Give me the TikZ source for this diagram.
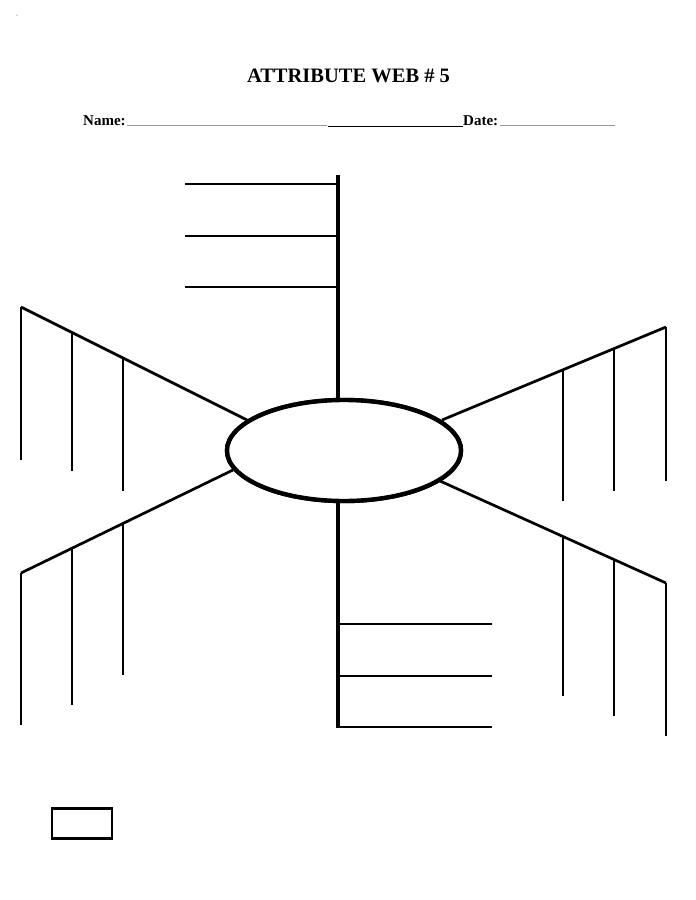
\documentclass[tikz,border=0pt]{standalone}
\usepackage{fontspec}
\setmainfont{Liberation Serif}
\usetikzlibrary{calc,shapes.geometric}
\begin{document}
\begin{tikzpicture}[x=1pt,y=-1pt,
  web/.style={line width=2.7pt,line cap=butt},
  spine/.style={line width=3.1pt,line cap=butt},
  tick/.style={line width=2.5pt},
  hub/.style={ellipse,draw,line width=4.4pt,minimum width=234pt,minimum height=101pt,inner sep=0pt},
  blank/.style={draw=black!40,line width=0.6pt},
  thickblank/.style={draw=black,line width=1.3pt},
  lbl/.style={inner sep=0pt,font=\bfseries\fontsize{15}{18}\selectfont}]
\useasboundingbox (0,0) rectangle (696,900);
\fill[white] (0,0) rectangle (696,900);

% header
\node[inner sep=0pt,font=\bfseries\fontsize{20.5}{24}\selectfont,anchor=base] (title) at (348.5,82) {ATTRIBUTE WEB \# 5};
\node[lbl,anchor=base west] (name) at (83,125) {Name:};
\node[lbl,anchor=base west] (date) at (463,125) {Date:};
\coordinate (n1) at (127,125.3); \coordinate (n2) at (327,125.3);
\coordinate (n3) at (328,126.3); \coordinate (n4) at (463,126.3);
\coordinate (d1) at (500,125.3); \coordinate (d2) at (615,125.3);
\draw[blank] (n1) -- (n2);
\draw[thickblank] (n3) -- (n4);
\draw[blank] (d1) -- (d2);
\node[inner sep=0pt,font=\fontsize{6}{6}\selectfont] (mark) at (17,17) {´};

% central ellipse
\node[hub] (hub) at (344,450.5) {};

% top spine
\coordinate (topEnd) at (338,175);
\coordinate (topBase) at (338,398);
\draw[spine] (topEnd) -- (topBase);
\foreach \y/\n in {184/a,236/b,287/c}{
  \coordinate (t\n r) at (338,\y); \coordinate (t\n l) at (185,\y);
  \draw[web] (t\n l) -- (t\n r);
}

% bottom spine
\coordinate (botBase) at (338,503);
\coordinate (botEnd) at (338,728);
\draw[spine] (botBase) -- (botEnd);
\foreach \y/\n in {624/a,676/b,727/c}{
  \coordinate (b\n l) at (338,\y); \coordinate (b\n r) at (492,\y);
  \draw[web] (b\n l) -- (b\n r);
}

% upper-left arm
\coordinate (ulE) at (247,420); \coordinate (ulO) at (21,307);
\draw[web] (ulE) -- (ulO);
\coordinate (ul1t) at (21,307);  \coordinate (ul1b) at (21,460);
\coordinate (ul2t) at (72,332);  \coordinate (ul2b) at (72,471);
\coordinate (ul3t) at (123,357); \coordinate (ul3b) at (123,491);
\draw[tick] (ul1t) -- (ul1b); \draw[tick] (ul2t) -- (ul2b); \draw[tick] (ul3t) -- (ul3b);

% lower-left arm
\coordinate (llE) at (233,470); \coordinate (llO) at (21,573);
\draw[web] (llE) -- (llO);
\coordinate (ll1t) at (21,573);  \coordinate (ll1b) at (21,725);
\coordinate (ll2t) at (72,549);  \coordinate (ll2b) at (72,705);
\coordinate (ll3t) at (123,524); \coordinate (ll3b) at (123,675);
\draw[tick] (ll1t) -- (ll1b); \draw[tick] (ll2t) -- (ll2b); \draw[tick] (ll3t) -- (ll3b);

% upper-right arm
\coordinate (urE) at (442,420); \coordinate (urO) at (666,327);
\draw[web] (urE) -- (urO);
\coordinate (ur1t) at (563,369); \coordinate (ur1b) at (563,501);
\coordinate (ur2t) at (614,348); \coordinate (ur2b) at (614,491);
\coordinate (ur3t) at (666,327); \coordinate (ur3b) at (666,481);
\draw[tick] (ur1t) -- (ur1b); \draw[tick] (ur2t) -- (ur2b); \draw[tick] (ur3t) -- (ur3b);

% lower-right arm
\coordinate (lrE) at (440,481); \coordinate (lrO) at (666,583);
\draw[web] (lrE) -- (lrO);
\coordinate (lr1t) at (563,536); \coordinate (lr1b) at (563,696);
\coordinate (lr2t) at (614,560); \coordinate (lr2b) at (614,716);
\coordinate (lr3t) at (666,583); \coordinate (lr3b) at (666,736);
\draw[tick] (lr1t) -- (lr1b); \draw[tick] (lr2t) -- (lr2b); \draw[tick] (lr3t) -- (lr3b);

% redraw hub on top
\node[hub,fill=white] (hub2) at (344,450.5) {};

% small box
\node[draw,line width=2.2pt,minimum width=60pt,minimum height=30pt,inner sep=0pt] (box) at (82,823.5) {};
\end{tikzpicture}
\end{document}
